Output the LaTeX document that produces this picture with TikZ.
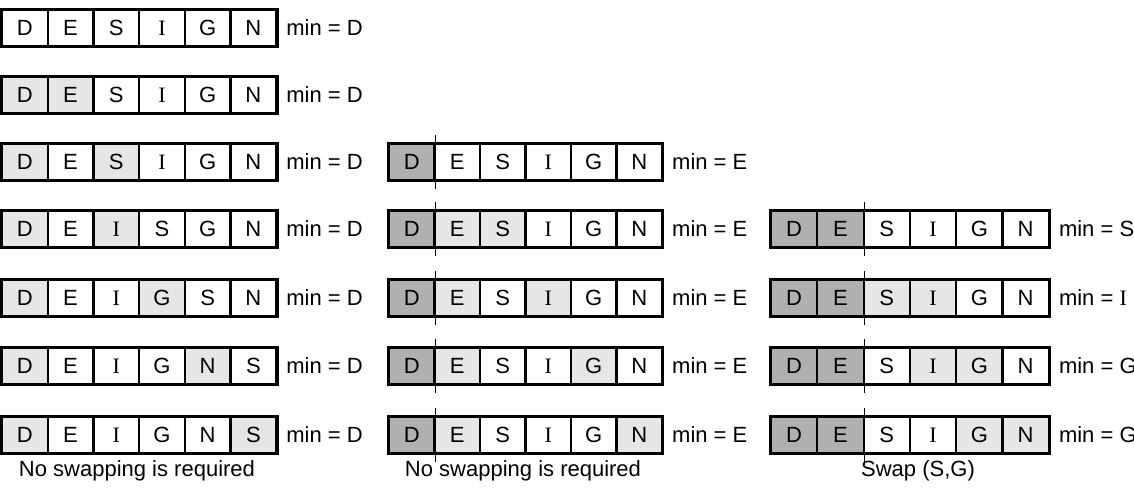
\documentclass[tikz,border=0pt]{standalone}
\usepackage{fontspec}
\setmainfont{Liberation Sans}
\newfontfamily\serifI{Liberation Serif}
\newcommand{\II}{{\serifI I}}
\definecolor{lg}{HTML}{E6E6E6}
\definecolor{dg}{HTML}{B0B0B0}
\colorlet{w}{white}
\colorlet{l}{lg}
\colorlet{d}{dg}
\tikzset{cell/.style={draw=black,line width=2.2pt,minimum height=36pt,inner sep=0pt,font=\fontsize{22}{24}\selectfont},
lbl/.style={anchor=west,font=\fontsize{22}{24}\selectfont,inner sep=0pt},
captxt/.style={font=\fontsize{22}{24}\selectfont,inner sep=0pt},
divider/.style={line width=1.4pt}}
% #1 name, #2 x0, #3 width, #4 yc, #5 list, #6 label
\newcommand{\arr}[6]{%
  \foreach \t/\f [count=\i] in {#5}{
    \node[cell,fill=\f,minimum width=#3pt] (#1c\i) at ({#2+(\i-0.5)*#3},#4) {\t};
  }
  \draw[line width=2.6pt] (#1c1.south west) rectangle (#1c6.north east);
  \node[lbl] (#1m) at ({#2+6*#3+10},#4) {#6};
}
\begin{document}
\begin{tikzpicture}[x=1pt,y=-1pt]
\useasboundingbox (0,0) rectangle (1134,493);
% column 1
\arr{a1}{2}{45.7}{28}{D/w,E/w,S/w,\II/w,G/w,N/w}{min = D}
\arr{a2}{2}{45.7}{95}{D/l,E/l,S/w,\II/w,G/w,N/w}{min = D}
\arr{a3}{2}{45.7}{162}{D/l,E/w,S/l,\II/w,G/w,N/w}{min = D}
\arr{a4}{2}{45.7}{229}{D/l,E/w,\II/l,S/w,G/w,N/w}{min = D}
\arr{a5}{2}{45.7}{298}{D/l,E/w,\II/w,G/l,S/w,N/w}{min = D}
\arr{a6}{2}{45.7}{366}{D/l,E/w,\II/w,G/w,N/l,S/w}{min = D}
\arr{a7}{2}{45.7}{435}{D/l,E/w,\II/w,G/w,N/w,S/l}{min = D}
\node[captxt] (ca) at (137,471) {No swapping is required};
% column 2
\arr{b3}{389}{45.5}{162}{D/d,E/w,S/w,\II/w,G/w,N/w}{min = E}
\arr{b4}{389}{45.5}{229}{D/d,E/l,S/l,\II/w,G/w,N/w}{min = E}
\arr{b5}{389}{45.5}{298}{D/d,E/l,S/w,\II/l,G/w,N/w}{min = E}
\arr{b6}{389}{45.5}{366}{D/d,E/l,S/w,\II/w,G/l,N/w}{min = E}
\arr{b7}{389}{45.5}{435}{D/d,E/l,S/w,\II/w,G/w,N/l}{min = E}
\foreach \r in {3,...,7}{
  \draw[divider] ([yshift=8pt]b\r c1.north east) -- ([yshift=-8pt]b\r c1.south east);
}
\node[captxt] (cb) at (523,471) {No swapping is required};
% column 3
\arr{c4}{771}{46.3}{229}{D/d,E/d,S/w,\II/w,G/w,N/w}{min = S}
\arr{c5}{771}{46.3}{298}{D/d,E/d,S/l,\II/l,G/w,N/w}{min = \II}
\arr{c6}{771}{46.3}{366}{D/d,E/d,S/w,\II/l,G/l,N/w}{min = G}
\arr{c7}{771}{46.3}{435}{D/d,E/d,S/w,\II/w,G/l,N/l}{min = G}
\foreach \r in {4,...,7}{
  \draw[divider] ([yshift=8pt]c\r c2.north east) -- ([yshift=-8pt]c\r c2.south east);
}
\node[captxt] (cc) at (918,471) {Swap (S,G)};
\end{tikzpicture}
\end{document}
